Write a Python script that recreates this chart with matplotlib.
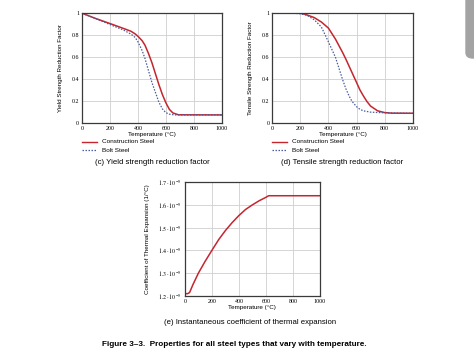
import matplotlib

matplotlib.use("Agg")
import matplotlib.pyplot as plt
from matplotlib.patches import FancyBboxPatch
from matplotlib.ticker import FixedLocator, FuncFormatter

plt.rcParams["mathtext.fontset"] = "stix"

RED = "#c3262f"
BLUE = "#4b5c9c"
SERIF = "Liberation Serif"
SANS = "Liberation Sans"

# (c) yield strength reduction factor
yield_t = [0, 100, 200, 300, 350, 380, 400, 430, 450, 475, 500, 525, 550, 575, 600, 625, 650, 690, 1000]
yield_con = [1.0, 0.951, 0.906, 0.86, 0.836, 0.812, 0.79, 0.75, 0.71, 0.635, 0.55, 0.45, 0.35, 0.26,
             0.185, 0.125, 0.093, 0.076, 0.075]
bolt_y_t = [0, 100, 200, 300, 350, 380, 400, 430, 450, 475, 500, 525, 550, 575, 600, 630, 665, 1000]
yield_bolt = [1.0, 0.95, 0.897, 0.845, 0.81, 0.78, 0.74, 0.66, 0.59, 0.48, 0.37, 0.28, 0.19, 0.13,
              0.095, 0.08, 0.075, 0.075]

# (d) tensile strength reduction factor
tens_con_t = [0, 200, 236, 300, 350, 400, 425, 450, 475, 500, 525, 550, 575, 600, 625, 650, 675, 700,
              750, 800, 850, 1000]
tens_con = [1.0, 1.0, 0.99, 0.96, 0.92, 0.865, 0.815, 0.765, 0.705, 0.645, 0.58, 0.51, 0.44, 0.37,
            0.30, 0.245, 0.195, 0.155, 0.112, 0.096, 0.091, 0.09]
tens_bolt_t = [0, 150, 200, 250, 300, 350, 378, 400, 450, 500, 525, 550, 567, 600, 625, 650, 700, 800, 1000]
tens_bolt = [1.0, 1.0, 0.995, 0.98, 0.94, 0.875, 0.8, 0.74, 0.6, 0.4, 0.31, 0.24, 0.2, 0.15, 0.125,
             0.112, 0.1, 0.094, 0.09]

# (e) instantaneous coefficient of thermal expansion (x 1e-5)
cte_t = [0, 20, 35, 60, 100, 150, 200, 250, 300, 350, 400, 450, 500, 550, 600, 620, 1000]
cte = [1.21, 1.21, 1.215, 1.25, 1.30, 1.352, 1.40, 1.447, 1.487, 1.522, 1.553, 1.58, 1.60, 1.618,
       1.633, 1.640, 1.640]

x_ticks = [0, 200, 400, 600, 800, 1000]


def style_axes(ax, ylabel):
    ax.set_xlim(0, 1000)
    ax.xaxis.set_major_locator(FixedLocator(x_ticks))
    ax.grid(True, color="#cfcfcf", lw=0.6)
    ax.set_axisbelow(True)
    ax.tick_params(length=0, labelsize=4.3, pad=2)
    for lab in ax.get_xticklabels() + ax.get_yticklabels():
        lab.set_family(SERIF)
    for s in ax.spines.values():
        s.set_color("#3a3a3a")
        s.set_linewidth(0.9)
    ax.set_xlabel("Temperature (\u00b0C)", fontsize=4.5, family=SANS, labelpad=1)
    ax.set_ylabel(ylabel, fontsize=4.5, family=SANS, labelpad=6)


def reduction_fmt(v, _):
    return "0" if v == 0 else ("1" if v == 1 else f"{v:.1f}")


fig = plt.figure(figsize=(4.74, 3.57), dpi=100)

ax_c = fig.add_axes([0.173, 0.655, 0.295, 0.308])
ax_c.plot(yield_t, yield_con, color=RED, lw=1.1)
ax_c.plot(bolt_y_t, yield_bolt, color=BLUE, lw=0.9, ls=(0, (1.2, 1.2)))
ax_c.set_ylim(0, 1)
ax_c.yaxis.set_major_locator(FixedLocator([0, 0.2, 0.4, 0.6, 0.8, 1.0]))
ax_c.yaxis.set_major_formatter(FuncFormatter(reduction_fmt))
style_axes(ax_c, "Yield Strength Reduction Factor")

ax_d = fig.add_axes([0.574, 0.655, 0.297, 0.308])
ax_d.plot(tens_con_t, tens_con, color=RED, lw=1.1)
ax_d.plot(tens_bolt_t, tens_bolt, color=BLUE, lw=0.9, ls=(0, (1.2, 1.2)))
ax_d.set_ylim(0, 1)
ax_d.yaxis.set_major_locator(FixedLocator([0, 0.2, 0.4, 0.6, 0.8, 1.0]))
ax_d.yaxis.set_major_formatter(FuncFormatter(reduction_fmt))
style_axes(ax_d, "Tensile Strength Reduction Factor")

ax_e = fig.add_axes([0.390, 0.171, 0.285, 0.319])
ax_e.plot(cte_t, cte, color=RED, lw=1.1)
ax_e.set_ylim(1.2, 1.7)
ax_e.yaxis.set_major_locator(FixedLocator([1.2, 1.3, 1.4, 1.5, 1.6, 1.7]))
ax_e.yaxis.set_major_formatter(FuncFormatter(lambda v, _: rf"${v:.1f}\cdot10^{{-5}}$"))
style_axes(ax_e, "Coefficient of Thermal Expansion (1/\u00b0C)")

# legends under the two top charts
for x0 in (82, 272):
    for i, (col, ls, name) in enumerate([(RED, "-", "Construction Steel"),
                                         (BLUE, (0, (1.2, 1.2)), "Bolt Steel")]):
        yy = 1 - (142 + 8 * i) / 357
        fig.add_artist(plt.Line2D([x0 / 474, (x0 + 15) / 474], [yy, yy], color=col,
                                  lw=1.0 if ls == "-" else 0.9, ls=ls))
        fig.text((x0 + 20) / 474, yy, name, fontsize=4.6, family=SANS, va="center")

fig.text(152 / 474, 1 - 163 / 357, "(c) Yield strength reduction factor",
         fontsize=5.6, family=SANS, ha="center", va="center")
fig.text(342 / 474, 1 - 163 / 357, "(d) Tensile strength reduction factor",
         fontsize=5.6, family=SANS, ha="center", va="center")
fig.text(250 / 474, 1 - 323 / 357, "(e) Instantaneous coefficient of thermal expansion",
         fontsize=5.6, family=SANS, ha="center", va="center")
fig.text(234 / 474, 1 - 344 / 357,
         "Figure 3\u20133.  Properties for all steel types that vary with temperature.",
         fontsize=5.9, family=SANS, weight="bold", ha="center", va="center")

# grey scroll-handle at the right edge
fig.add_artist(FancyBboxPatch((466 / 474, 1 - 58 / 357), 20 / 474, 70 / 357,
                              boxstyle="round,pad=0,rounding_size=0.015",
                              transform=fig.transFigure, color="#a3a3a3", clip_on=False))

fig.savefig("out.png", dpi=100)
